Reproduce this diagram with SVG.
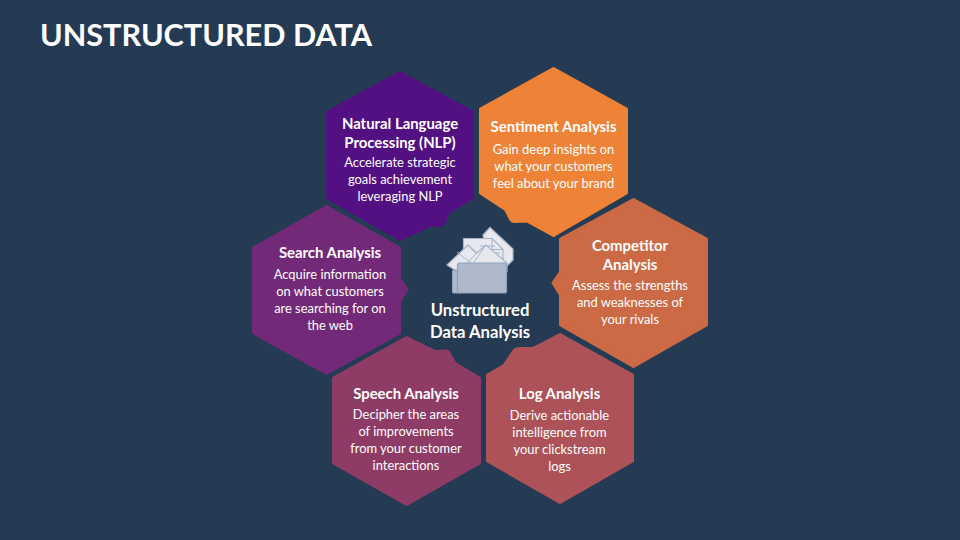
<svg xmlns="http://www.w3.org/2000/svg" width="960" height="540" viewBox="0 0 960 540">
<style>
text{font-family:"Lato","Open Sans","Liberation Sans",sans-serif;fill:#fff;text-anchor:middle}
.h{font-size:14.9px;font-weight:700}
.b{font-size:12.9px}
.hex{stroke-width:3;stroke-linejoin:round}
.ic{fill:#e7e9ee;stroke:#a9b6ca;stroke-width:1.2;stroke-linejoin:round}
.il{fill:none;stroke:#a9b6ca;stroke-width:1}
</style>
<rect width="960" height="540" fill="#253a53"/>
<text x="206" y="45.500" text-anchor="middle" style="font-size:30.600px;font-weight:700">UNSTRUCTURED DATA</text>
<g id="node-nlp">
<path class="hex" fill="#521082" stroke="#521082" d="M400 72.500L472.500 112V198L448 212.500L445 222Q443 225.500 438 225.500L432 225L400 239.500L327.500 198V112Z"/>
<text class="h" x="400" y="129">Natural Language</text>
<text class="h" x="400" y="148">Processing (NLP)</text>
<text class="b" x="400" y="167">Accelerate strategic</text>
<text class="b" x="400" y="184">goals achievement</text>
<text class="b" x="400" y="201">leveraging NLP</text>
</g>
<g id="node-sentiment">
<path class="hex" fill="#ee8237" stroke="#ee8237" d="M553.500 68.500L626.500 109V193L553.500 235.500L527 221L514 221.500Q511 221 510 218L505.500 209.500L480.500 193V109Z"/>
<text class="h" x="553.500" y="132">Sentiment Analysis</text>
<text class="b" x="553.500" y="154">Gain deep insights on</text>
<text class="b" x="553.500" y="171">what your customers</text>
<text class="b" x="553.500" y="188">feel about your brand</text>
</g>
<g id="node-competitor">
<path class="hex" fill="#cb6a45" stroke="#cb6a45" d="M633.500 199.500L706.500 239V325L633.500 366.500L560.500 325V295L553 283L560.500 272V239Z"/>
<text class="h" x="630" y="251">Competitor</text>
<text class="h" x="630" y="270">Analysis</text>
<text class="b" x="630" y="290">Assess the strengths</text>
<text class="b" x="630" y="307">and weaknesses of</text>
<text class="b" x="630" y="324">your rivals</text>
</g>
<g id="node-search">
<path class="hex" fill="#722a78" stroke="#722a78" d="M326.500 206.500L399.500 248V278L407 290L399.500 301V333L326.500 373.500L253.500 333V248Z"/>
<text class="h" x="330" y="258">Search Analysis</text>
<text class="b" x="330" y="279">Acquire information</text>
<text class="b" x="330" y="296">on what customers</text>
<text class="b" x="330" y="313">are searching for on</text>
<text class="b" x="330" y="330">the web</text>
</g>
<g id="node-speech">
<path class="hex" fill="#8e3c65" stroke="#8e3c65" d="M406.500 337.500L435 351.500L446 351Q449 351 450 355L455 363.500L479.500 378V463L406.500 504.500L333.500 463V378Z"/>
<text class="h" x="406" y="399">Speech Analysis</text>
<text class="b" x="406" y="419">Decipher the areas</text>
<text class="b" x="406" y="436">of improvements</text>
<text class="b" x="406" y="453">from your customer</text>
<text class="b" x="406" y="470">interactions</text>
</g>
<g id="node-log">
<path class="hex" fill="#ad5258" stroke="#ad5258" d="M560 334.500L632.500 375V461L560 502.500L487.500 461V375L504 365.500L513 352Q515 348.500 520 348.500H533Z"/>
<text class="h" x="559.500" y="399">Log Analysis</text>
<text class="b" x="559.500" y="420">Derive actionable</text>
<text class="b" x="559.500" y="437">intelligence from</text>
<text class="b" x="559.500" y="454">your clickstream</text>
<text class="b" x="559.500" y="471">logs</text>
</g>
<g id="node-center">
<path class="ic" d="M483 235L490 227.500L513 249V260L506 267H490Z"/>
<path class="ic" d="M463.500 238.500H492L503 249.500V267H463.500Z"/>
<path class="il" d="M492 238.500V249.500H503M480 246H495M484 253H500"/>
<path class="ic" d="M447 265L468 245L477 253L486 245L507 263V272H458Z"/>
<path class="il" d="M457 252L472 264M468 245L476 254L466 264M486 245L474 262"/>
<rect x="452.500" y="270" width="8" height="23" rx="1" fill="#aeb9cb" stroke="#8fa1bb"/>
<rect x="457.500" y="263" width="49" height="30" rx="2" fill="#aeb9cb" stroke="#8fa1bb" stroke-width="1.200"/>
<text class="h" x="480" y="316" style="font-size:16.700px">Unstructured</text>
<text class="h" x="480" y="338" style="font-size:16.700px">Data Analysis</text>
</g>
</svg>
